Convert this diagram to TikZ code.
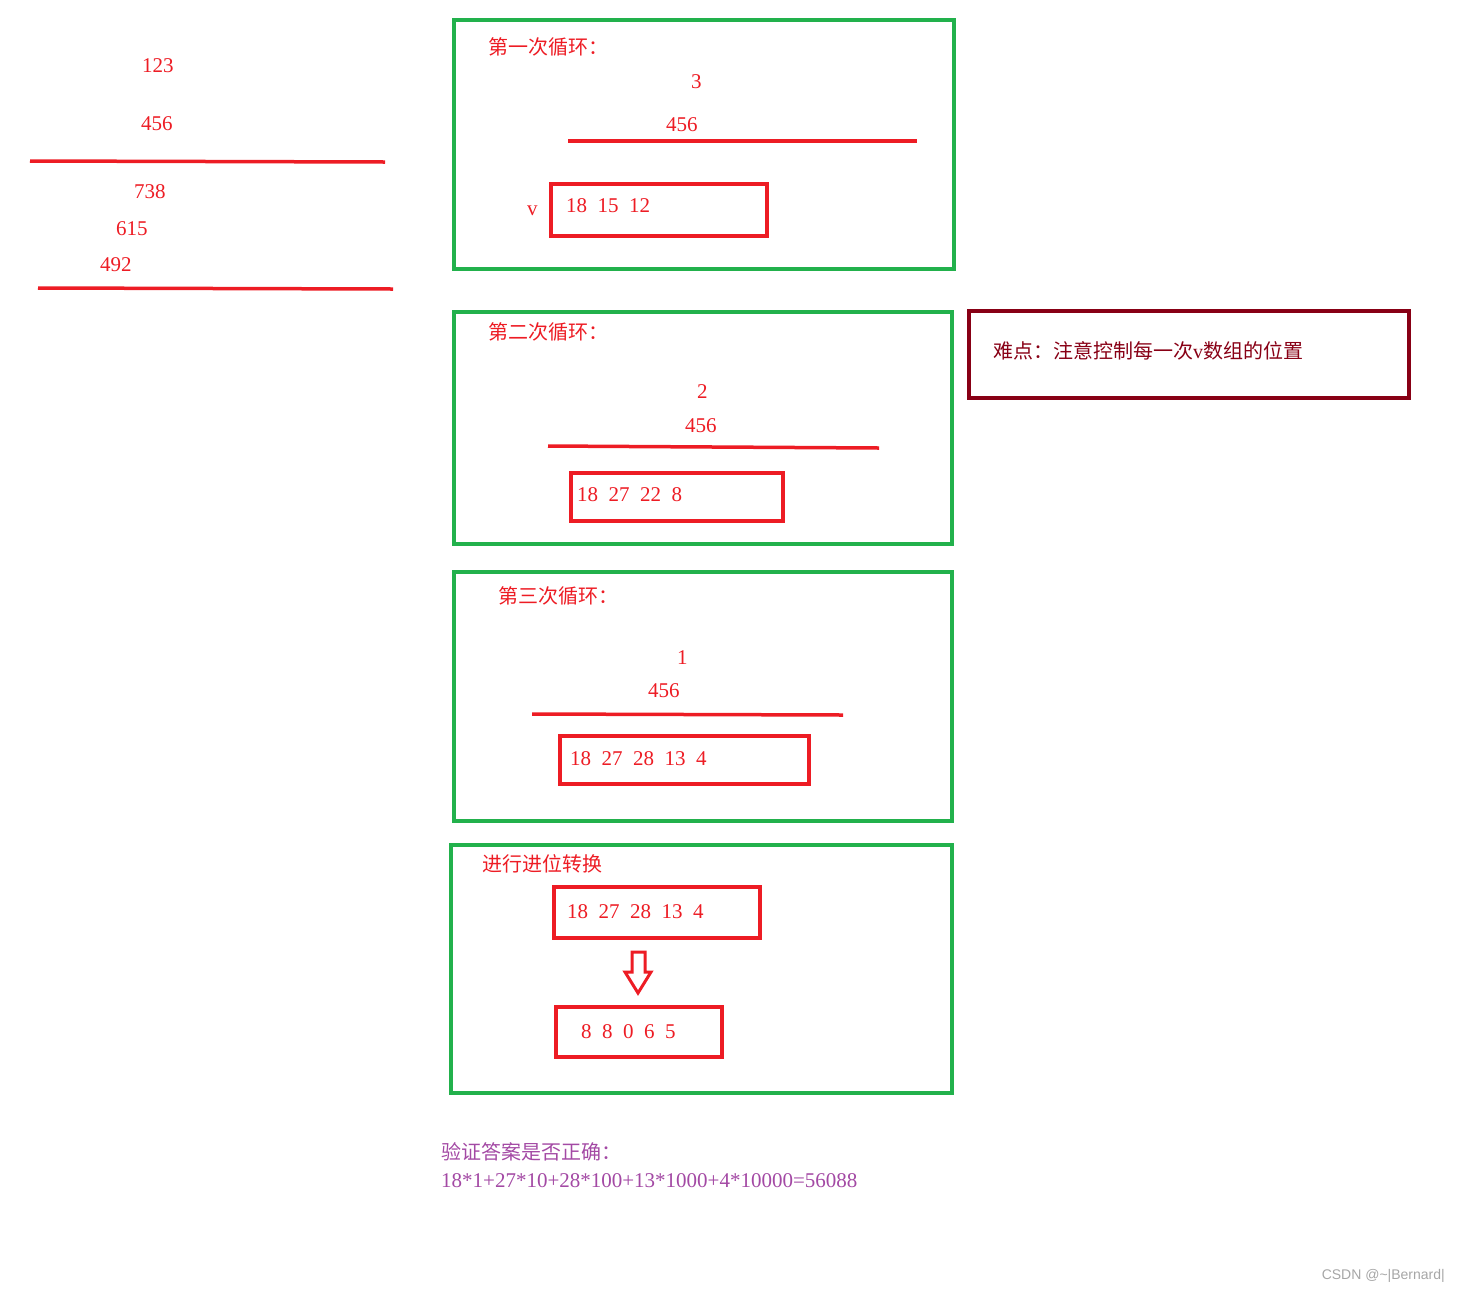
\documentclass[tikz,border=0pt]{standalone}
\usepackage{fontspec}
\setmainfont{Liberation Serif}
\newfontfamily\cjk{Noto Sans CJK SC}
\setsansfont{Liberation Sans}
\definecolor{rd}{HTML}{ED1C24}
\definecolor{gr}{HTML}{22B14C}
\definecolor{dr}{HTML}{880015}
\definecolor{pu}{HTML}{A349A4}
\begin{document}
\begin{tikzpicture}[x=1pt,y=-1pt,
  t/.style={text=rd,font=\fontsize{21}{24}\selectfont,inner sep=0pt,anchor=west},
  c/.style={text=rd,font=\cjk\fontsize{20}{24}\selectfont,inner sep=0pt,anchor=west},
  gbox/.style={draw=gr,line width=3.5pt},
  rbox/.style={draw=rd,line width=3.5pt},
  rl/.style={draw=rd,line width=3.5pt}]
\useasboundingbox (0,0) rectangle (1459,1294);
% left
\node[t] (a1) at (142,66) {123};
\node[t] (a2) at (141,124) {456};
\draw[rl] (30,161) -- (385,162);
\node[t] (a3) at (134,192) {738};
\node[t] (a4) at (116,229) {615};
\node[t] (a5) at (100,265) {492};
\draw[rl] (38,288) -- (393,289);
% box 1
\draw[gbox] (454,20) rectangle (954,269);
\node[c] (h1) at (488,47) {第一次循环：};
\node[t] (b1) at (691,82) {3};
\node[t] (b2) at (666,125) {456};
\draw[rl] (568,141) -- (917,141);
\node[t] (v) at (527,211) {v};
\draw[rbox] (551,184) rectangle (767,236);
\node[t] (b3) at (566,206) {18\ \ 15\ \ 12};
% box 2
\draw[gbox] (454,312) rectangle (952,544);
\node[c] (h2) at (488,332) {第二次循环：};
\node[t] (c1) at (697,392) {2};
\node[t] (c2) at (685,426) {456};
\draw[rl] (548,446) -- (879,448);
\draw[rbox] (571,473) rectangle (783,521);
\node[t] (c3) at (577,495) {18\ \ 27\ \ 22\ \ 8};
% box 3
\draw[gbox] (454,572) rectangle (952,821);
\node[c] (h3) at (498,596) {第三次循环：};
\node[t] (d1) at (677,658) {1};
\node[t] (d2) at (648,691) {456};
\draw[rl] (532,714) -- (843,715);
\draw[rbox] (560,736) rectangle (809,784);
\node[t] (d3) at (570,759) {18\ \ 27\ \ 28\ \ 13\ \ 4};
% box 4
\draw[gbox] (451,845) rectangle (952,1093);
\node[c] (h4) at (482,864) {进行进位转换};
\draw[rbox] (554,887) rectangle (760,938);
\node[t] (e1) at (567,912) {18\ \ 27\ \ 28\ \ 13\ \ 4};
\draw[rd,line width=3pt,line join=miter] (632,952) -- (645,952) -- (645,972) -- (651,972) -- (638,993) -- (625,972) -- (632,972) -- cycle;
\draw[rbox] (556,1007) rectangle (722,1057);
\node[t] (e2) at (581,1032) {8\ \ 8\ \ 0\ \ 6\ \ 5};
% note
\draw[draw=dr,line width=4pt] (969,311) rectangle (1409,398);
\node[c,text=dr] (n) at (993,351) {难点：注意控制每一次\textrm{v}数组的位置};
% verify
\node[c,text=pu] (f1) at (441,1152) {验证答案是否正确：};
\node[t,text=pu] (f2) at (441,1181) {18*1+27*10+28*100+13*1000+4*10000=56088};
\node[anchor=east,inner sep=0pt,text=gray!70,font=\sffamily\fontsize{14}{16}\selectfont] (w) at (1445,1276) {CSDN @\textasciitilde|Bernard|};
\end{tikzpicture}
\end{document}
